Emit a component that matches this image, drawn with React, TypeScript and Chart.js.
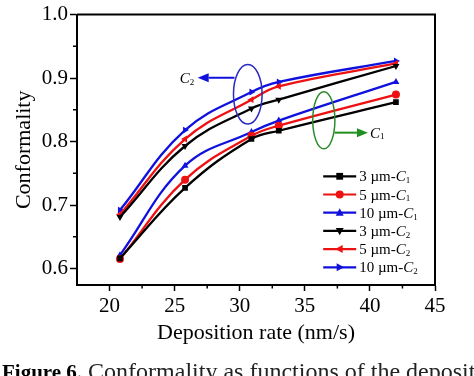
import React, { useEffect, useRef } from "react";
import { Chart, registerables } from "chart.js";

Chart.register(...registerables);

// ---- data ----
const depositionRate = [20.8, 25.8, 30.9, 33.0, 42.0];
const c1_3um = [0.616, 0.727, 0.804, 0.817, 0.862];
const c1_5um = [0.615, 0.740, 0.809, 0.825, 0.874];
const c1_10um = [0.621, 0.762, 0.815, 0.833, 0.894];
const c2_3um = [0.681, 0.793, 0.852, 0.866, 0.919];
const c2_5um = [0.685, 0.804, 0.866, 0.887, 0.923];
const c2_10um = [0.692, 0.818, 0.878, 0.894, 0.927];

const seriesSizes = ["3", "5", "10", "3", "5", "10"];
const seriesGroups = ["1", "1", "1", "2", "2", "2"];
const seriesColors = ["#000000", "#ee1111", "#1111dd", "#000000", "#ee1111", "#1111dd"];
const seriesMarkers = ["rect", "circle", "triangle", "triangle", "triangle", "triangle"];
const seriesRotations = [0, 0, 0, 180, -90, 90];
const seriesValues = [c1_3um, c1_5um, c1_10um, c2_3um, c2_5um, c2_10um];

const xTicks = [20, 25, 30, 35, 40, 45];
const yTicks = [0.6, 0.7, 0.8, 0.9, 1.0];
const xMinorTicks = [22.5, 27.5, 32.5, 37.5, 42.5];
const yMinorTicks = [0.65, 0.75, 0.85, 0.95];

const SERIF = '"Liberation Serif", "Times New Roman", serif';

function drawMarker(ctx: CanvasRenderingContext2D, style: string, rot: number, x: number, y: number, r: number, color: string) {
  ctx.save();
  ctx.translate(x, y);
  ctx.rotate((rot * Math.PI) / 180);
  ctx.fillStyle = color;
  ctx.beginPath();
  if (style === "rect") {
    ctx.rect(-r * 0.85, -r * 0.85, r * 1.7, r * 1.7);
  } else if (style === "circle") {
    ctx.arc(0, 0, r, 0, Math.PI * 2);
  } else {
    ctx.moveTo(0, -r * 1.1);
    ctx.lineTo(r * 1.0, r * 0.75);
    ctx.lineTo(-r * 1.0, r * 0.75);
    ctx.closePath();
  }
  ctx.fill();
  ctx.restore();
}

function drawCLabel(ctx: CanvasRenderingContext2D, prefix: string, sub: string, x: number, y: number, size: number) {
  ctx.save();
  ctx.fillStyle = "#000";
  ctx.textBaseline = "alphabetic";
  ctx.textAlign = "left";
  ctx.font = `${size}px ${SERIF}`;
  let cx = x;
  if (prefix) {
    ctx.fillText(prefix, cx, y);
    cx += ctx.measureText(prefix).width;
  }
  ctx.font = `italic ${size}px ${SERIF}`;
  ctx.fillText("C", cx, y);
  cx += ctx.measureText("C").width;
  ctx.font = `${Math.round(size * 0.62)}px ${SERIF}`;
  ctx.fillText(sub, cx, y + size * 0.12);
  ctx.restore();
}

function drawArrow(ctx: CanvasRenderingContext2D, x1: number, x2: number, y: number, color: string) {
  const dir = x2 > x1 ? 1 : -1;
  const head = 11;
  ctx.save();
  ctx.strokeStyle = color;
  ctx.fillStyle = color;
  ctx.lineWidth = 2;
  ctx.beginPath();
  ctx.moveTo(x1, y);
  ctx.lineTo(x2 - dir * head, y);
  ctx.stroke();
  ctx.beginPath();
  ctx.moveTo(x2, y);
  ctx.lineTo(x2 - dir * head, y - 4.5);
  ctx.lineTo(x2 - dir * head, y + 4.5);
  ctx.closePath();
  ctx.fill();
  ctx.restore();
}

const decorPlugin = {
  id: "decor",
  afterDraw(chart: any) {
    const { ctx, chartArea } = chart;
    const xs = chart.scales.x;
    const ys = chart.scales.y;
    ctx.save();
    // frame (top & right)
    ctx.strokeStyle = "#000";
    ctx.lineWidth = 2;
    ctx.beginPath();
    ctx.moveTo(chartArea.left, chartArea.top);
    ctx.lineTo(chartArea.right, chartArea.top);
    ctx.lineTo(chartArea.right, chartArea.bottom);
    ctx.stroke();
    // minor ticks
    ctx.lineWidth = 1.5;
    ctx.beginPath();
    xMinorTicks.forEach((v) => {
      const px = xs.getPixelForValue(v);
      ctx.moveTo(px, chartArea.bottom);
      ctx.lineTo(px, chartArea.bottom + 3.5);
    });
    yMinorTicks.forEach((v) => {
      const py = ys.getPixelForValue(v);
      ctx.moveTo(chartArea.left, py);
      ctx.lineTo(chartArea.left - 4, py);
    });
    ctx.stroke();

    // C2 annotation (blue ellipse + left arrow)
    const bcx = xs.getPixelForValue(30.62);
    const bcy = ys.getPixelForValue(0.8745);
    const brx = xs.getPixelForValue(30.62 + 1.1) - bcx;
    const bry = bcy - ys.getPixelForValue(0.8745 + 0.047);
    ctx.strokeStyle = "#2a2ac0";
    ctx.lineWidth = 1.5;
    ctx.beginPath();
    ctx.ellipse(bcx, bcy, brx, bry, 0, 0, Math.PI * 2);
    ctx.stroke();
    const ay2 = ys.getPixelForValue(0.9005);
    drawArrow(ctx, bcx - brx * 0.93, xs.getPixelForValue(26.77), ay2, "#1111dd");
    drawCLabel(ctx, "", "2", xs.getPixelForValue(25.4), ay2 + 5, 15);

    // C1 annotation (green ellipse + right arrow)
    const gcx = xs.getPixelForValue(36.46);
    const gcy = ys.getPixelForValue(0.8336);
    const grx = xs.getPixelForValue(36.46 + 0.85) - gcx;
    const gry = gcy - ys.getPixelForValue(0.8336 + 0.045);
    ctx.strokeStyle = "#2b8a2b";
    ctx.beginPath();
    ctx.ellipse(gcx, gcy, grx, gry, 0, 0, Math.PI * 2);
    ctx.stroke();
    const ay1 = ys.getPixelForValue(0.814);
    drawArrow(ctx, gcx + grx * 0.97, xs.getPixelForValue(39.85), ay1, "#1f8f1f");
    drawCLabel(ctx, "", "1", xs.getPixelForValue(40.0), ay1 + 5, 15);

    // legend
    const lx1 = chartArea.left + (chartArea.right - chartArea.left) * 0.6877;
    const lx2 = lx1 + 33;
    const ly0 = chartArea.top + 161.7;
    const step = 18.2;
    for (let i = 0; i < seriesValues.length; i++) {
      const y = ly0 + i * step;
      ctx.strokeStyle = seriesColors[i];
      ctx.lineWidth = 2.2;
      ctx.beginPath();
      ctx.moveTo(lx1, y);
      ctx.lineTo(lx2, y);
      ctx.stroke();
      drawMarker(ctx, seriesMarkers[i], seriesRotations[i], (lx1 + lx2) / 2, y, 4, seriesColors[i]);
      drawCLabel(ctx, `${seriesSizes[i]} \u00b5m-`, seriesGroups[i], lx2 + 3, y + 5, 15);
    }
    ctx.restore();
  },
};

export default function App() {
  const ref = useRef<HTMLCanvasElement>(null);
  useEffect(() => {
    const canvas = ref.current!;
    const datasets = seriesValues.map((vals, i) => ({
      label: `${seriesSizes[i]} µm-C${seriesGroups[i]}`,
      data: depositionRate.map((x, j) => ({ x, y: vals[j] })),
      borderColor: seriesColors[i],
      backgroundColor: seriesColors[i],
      borderWidth: 2.3,
      pointStyle: seriesMarkers[i],
      pointRotation: seriesRotations[i],
      pointRadius: 4,
      pointBorderWidth: 0,
      tension: 0.4,
      fill: false,
    }));
    const chart = new Chart(canvas, {
      type: "line",
      data: { datasets },
      options: {
        animation: false,
        responsive: false,
        devicePixelRatio: 1,
        layout: { padding: { left: 0, right: 39, top: 11, bottom: 0 } },
        plugins: { legend: { display: false }, tooltip: { enabled: false } },
        scales: {
          x: {
            type: "linear",
            min: 17.5,
            max: 45,
            afterBuildTicks: (s: any) => {
              s.ticks = xTicks.map((v) => ({ value: v }));
            },
            afterFit: (s: any) => {
              s.height = 91;
            },
            border: { display: true, color: "#000", width: 2 },
            grid: { display: true, drawOnChartArea: false, drawTicks: true, tickLength: 6, tickWidth: 1.5, tickColor: "#000" },
            ticks: { color: "#000", padding: 3, font: { family: SERIF, size: 21 }, maxRotation: 0 },
            title: { display: true, text: "Deposition rate (nm/s)", color: "#000", font: { family: SERIF, size: 22 }, padding: { top: 0, bottom: 30 } },
          },
          y: {
            type: "linear",
            min: 0.574,
            max: 1.0,
            afterBuildTicks: (s: any) => {
              s.ticks = yTicks.map((v) => ({ value: v }));
            },
            afterFit: (s: any) => {
              s.width = 77;
            },
            border: { display: true, color: "#000", width: 2 },
            grid: { display: true, drawOnChartArea: false, drawTicks: true, tickLength: 7, tickWidth: 1.5, tickColor: "#000" },
            ticks: { color: "#000", padding: 2, font: { family: SERIF, size: 21 }, callback: (v: any) => Number(v).toFixed(1) },
            title: { display: true, text: "Conformality", color: "#000", font: { family: SERIF, size: 22 }, padding: { top: 11, bottom: 0 } },
          },
        },
      },
      plugins: [decorPlugin],
    });
    return () => chart.destroy();
  }, []);
  return (
    <div style={{ position: "fixed", left: 0, top: 0, width: 474, height: 376, overflow: "hidden", background: "#fff" }}>
      <canvas ref={ref} width={474} height={376} style={{ position: "absolute", left: 0, top: 0, width: 474, height: 376 }} />
      <div
        style={{
          position: "absolute",
          left: 2,
          top: 359,
          fontFamily: SERIF,
          fontSize: 24,
          lineHeight: "24px",
          whiteSpace: "nowrap",
          color: "#222",
        }}
      >
        <b style={{ color: "#000", fontSize: 21 }}>Figure 6.</b> Conformality as functions of the deposition rate.
      </div>
    </div>
  );
}
